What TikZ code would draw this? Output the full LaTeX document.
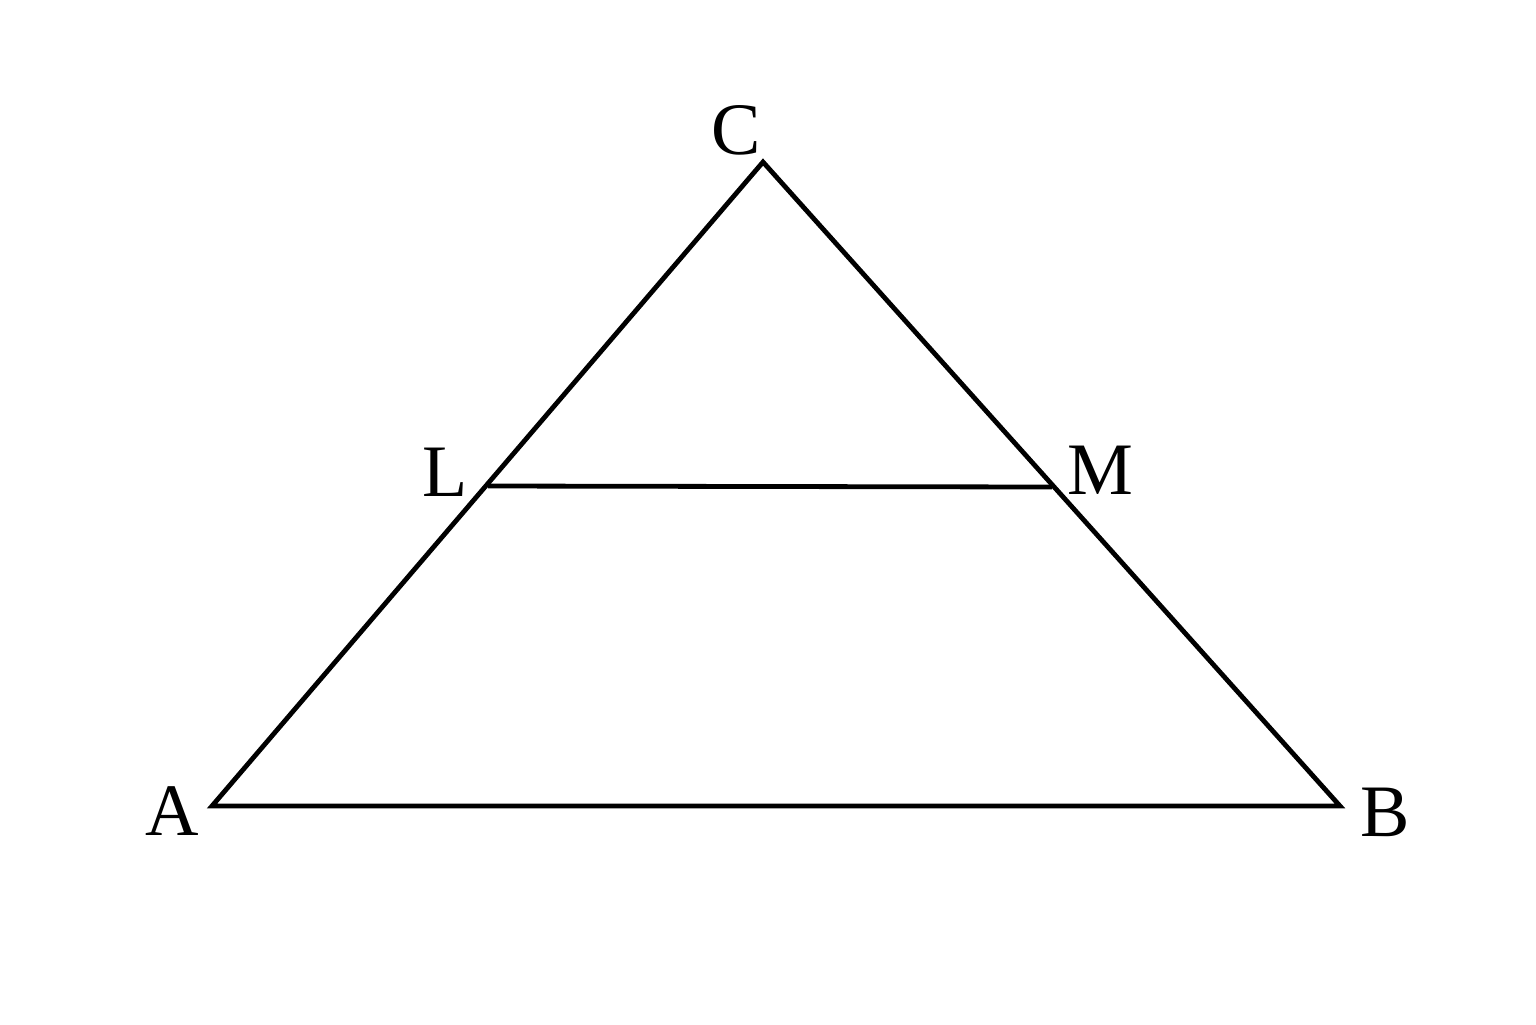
\documentclass[tikz,border=0pt]{standalone}
\usepackage{fontspec}
\setmainfont{Liberation Serif}
\begin{document}
\begin{tikzpicture}[x=0.5pt,y=-0.5pt,
  edge/.style={line width=2.4pt,black},
  lbl/.style={font=\fontsize{37}{40}\selectfont,inner sep=0pt}]
\useasboundingbox (0,0) rectangle (1536,1024);
\coordinate (A) at (212,806);
\coordinate (B) at (1340,806);
\coordinate (C) at (763,162);
\coordinate (L) at (488,486);
\coordinate (M) at (1052,487);
\draw[edge] (A) -- (B) -- (C) -- cycle;
\draw[edge] (L) -- (M);
\node[lbl] (lC) at (736,130) {C};
\node[lbl] (lL) at (445,472) {L};
\node[lbl] (lM) at (1100,470) {M};
\node[lbl] (lA) at (172,811) {A};
\node[lbl] (lB) at (1385,812) {B};
\end{tikzpicture}
\end{document}
